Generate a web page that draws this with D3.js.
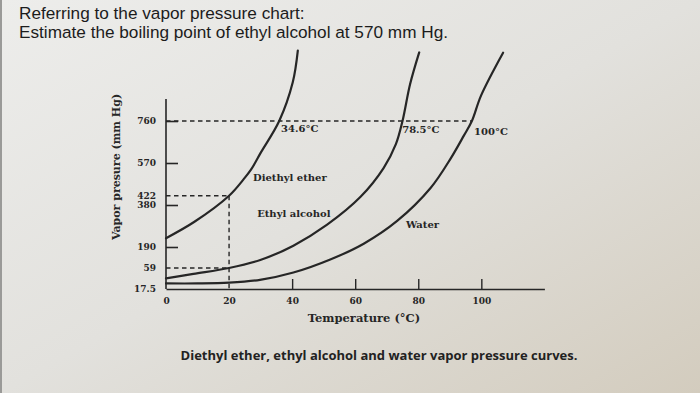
<!DOCTYPE html>
<html><head><meta charset="utf-8">
<script src="https://cdn.jsdelivr.net/npm/d3@7"></script>
<style>body{margin:0;background:#e6e5e2;}svg{display:block;}</style>
</head><body>
<svg id="chart" width="700" height="393"></svg>
<script>
// ---- data ----
const headerLines = ["Referring to the vapor pressure chart:",
                     "Estimate the boiling point of ethyl alcohol at 570 mm Hg."];
const xTicks = [0, 20, 40, 60, 80, 100];
const xTickMarks = [40, 60, 80, 100];
const yTicks = [17.5, 59, 190, 380, 422, 570, 760];
const yTickMarks = [190, 380, 570, 760];

const etherTemp = [0, 8.9, 20, 24.7, 27.0, 30.1, 35.9, 40.2, 41.8];
const etherVP   = [230, 303, 422, 498, 541, 618, 760, 935, 1078];

const alcoholTemp = [0, 8.7, 20, 29.9, 40.4, 51.1, 61.7, 69.0, 72.9, 75.0, 77.4, 80.3];
const alcoholVP   = [38.6, 47.5, 59, 109, 196, 291, 417, 547, 655, 760, 926, 1070];

const waterTemp = [0, 10, 20, 29.8, 40.4, 52.1, 62.7, 73.3, 83.9, 90.3, 94.5, 97.0, 99.9, 106.9];
const waterVP   = [28.5, 28.5, 30, 35.5, 50, 112, 205, 308, 457, 591, 695, 760, 875, 1069];

const refHoriz = [ {vp: 760, t0: 0, t1: 97}, {vp: 422, t0: 0, t1: 20}, {vp: 59, t0: 0, t1: 20} ];
const refVert  = [ {t: 20, vp0: 17.5, vp1: 422} ];

const curveLabels = [
  {text: "34.6°C", t: 36.5, vp: 712},
  {text: "78.5°C", t: 74.9, vp: 704},
  {text: "100°C", t: 97.7, vp: 698},
  {text: "Diethyl ether", t: 27.6, vp: 490},
  {text: "Ethyl alcohol", t: 28.9, vp: 325},
  {text: "Water", t: 76.1, vp: 277}
];
const xTitle = "Temperature (°C)";
const yTitle = "Vapor presure (mm Hg)";
const caption = "Diethyl ether, ethyl alcohol and water vapor pressure curves.";
const yAxisTop = 860;

// ---- drawing ----
const svg = d3.select("#chart");
const ink = "#262626";
const serif = "'DejaVu Serif', serif";

const defs = svg.append("defs");
const grad = defs.append("linearGradient").attr("id", "bg")
  .attr("x1", "0").attr("y1", "0").attr("x2", "1").attr("y2", "1");
grad.append("stop").attr("offset", "0%").attr("stop-color", "#ededeb");
grad.append("stop").attr("offset", "50%").attr("stop-color", "#e2e1dd");
grad.append("stop").attr("offset", "100%").attr("stop-color", "#d3ccbe");
svg.append("rect").attr("width", 700).attr("height", 393).attr("fill", "url(#bg)");
svg.append("rect").attr("width", 2).attr("height", 393).attr("fill", "#9a9a98");

// header
svg.append("g").selectAll("text").data(headerLines).join("text")
  .attr("x", 19).attr("y", (d, i) => 18.5 + i * 19.5)
  .attr("font-family", "'Liberation Sans', Arial, sans-serif")
  .attr("font-size", 17.2).attr("fill", "#1c1c1c").text(d => d);

const x = d3.scaleLinear().domain([0, 120]).range([166, 544.4]);
const y = d3.scaleLinear().domain([17.5, 59, 190, 760, 1100]).range([289, 268, 247, 121, 45.8]);

// dashed reference lines
const dash = svg.append("g").attr("stroke", ink).attr("stroke-width", 1.4)
  .attr("stroke-dasharray", "4.5,3.5").attr("fill", "none");
dash.selectAll("line.h").data(refHoriz).join("line").attr("class", "h")
  .attr("x1", d => x(d.t0)).attr("x2", d => x(d.t1))
  .attr("y1", d => y(d.vp)).attr("y2", d => y(d.vp));
dash.selectAll("line.v").data(refVert).join("line").attr("class", "v")
  .attr("x1", d => x(d.t)).attr("x2", d => x(d.t))
  .attr("y1", d => y(d.vp1)).attr("y2", d => y(d.vp0));

// axes
const yAxis = svg.append("g").attr("transform", `translate(${x(0)},0)`)
  .call(d3.axisLeft(y).tickValues(yTicks).tickSizeInner(-12).tickSizeOuter(0).tickPadding(10)
        .tickFormat(d => String(d)));
yAxis.select(".domain").remove();
yAxis.selectAll(".tick line").filter(d => !yTickMarks.includes(d)).remove();
yAxis.selectAll(".tick line").attr("stroke", ink).attr("stroke-width", 1.6);
yAxis.selectAll("text").attr("font-family", serif).attr("font-weight", "bold")
  .attr("font-size", 9).attr("fill", ink);
yAxis.append("line").attr("x1", 0).attr("x2", 0).attr("y1", y(17.5)).attr("y2", y(yAxisTop))
  .attr("stroke", ink).attr("stroke-width", 1.6);

const xAxis = svg.append("g").attr("transform", `translate(0,${y(17.5)})`)
  .call(d3.axisBottom(x).tickValues(xTicks).tickSizeInner(-10).tickSizeOuter(0).tickPadding(9));
xAxis.select(".domain").attr("stroke", ink).attr("stroke-width", 1.6);
xAxis.selectAll(".tick line").filter(d => !xTickMarks.includes(d)).remove();
xAxis.selectAll(".tick line").attr("stroke", ink).attr("stroke-width", 1.4);
xAxis.selectAll("text").attr("font-family", serif).attr("font-weight", "bold")
  .attr("font-size", 9).attr("fill", ink);

// curves
const series = [
  {temp: etherTemp, vp: etherVP},
  {temp: alcoholTemp, vp: alcoholVP},
  {temp: waterTemp, vp: waterVP}
];
const line = d3.line().x(d => x(d[0])).y(d => y(d[1])).curve(d3.curveCatmullRom.alpha(0.5));
svg.append("g").selectAll("path").data(series).join("path")
  .attr("d", s => line(s.temp.map((t, i) => [t, s.vp[i]])))
  .attr("fill", "none").attr("stroke", ink).attr("stroke-width", 2.2)
  .attr("stroke-linecap", "round");

// curve labels
svg.append("g").selectAll("text").data(curveLabels).join("text")
  .attr("x", d => x(d.t)).attr("y", d => y(d.vp))
  .attr("font-family", serif).attr("font-weight", "bold").attr("font-size", 10)
  .attr("fill", ink).text(d => d.text);

// axis titles
svg.append("text").attr("x", 364).attr("y", 322).attr("text-anchor", "middle")
  .attr("font-family", serif).attr("font-weight", "bold").attr("font-size", 11.5)
  .attr("fill", ink).text(xTitle);
svg.append("text").attr("transform", "translate(120,167) rotate(-90)").attr("text-anchor", "middle")
  .attr("font-family", serif).attr("font-weight", "bold").attr("font-size", 11)
  .attr("fill", ink).text(yTitle);

// caption
svg.append("text").attr("x", 379).attr("y", 360).attr("text-anchor", "middle")
  .attr("font-family", "'Open Sans', sans-serif").attr("font-weight", "bold").attr("font-size", 13)
  .attr("fill", "#222").text(caption);
</script>
</body></html>
